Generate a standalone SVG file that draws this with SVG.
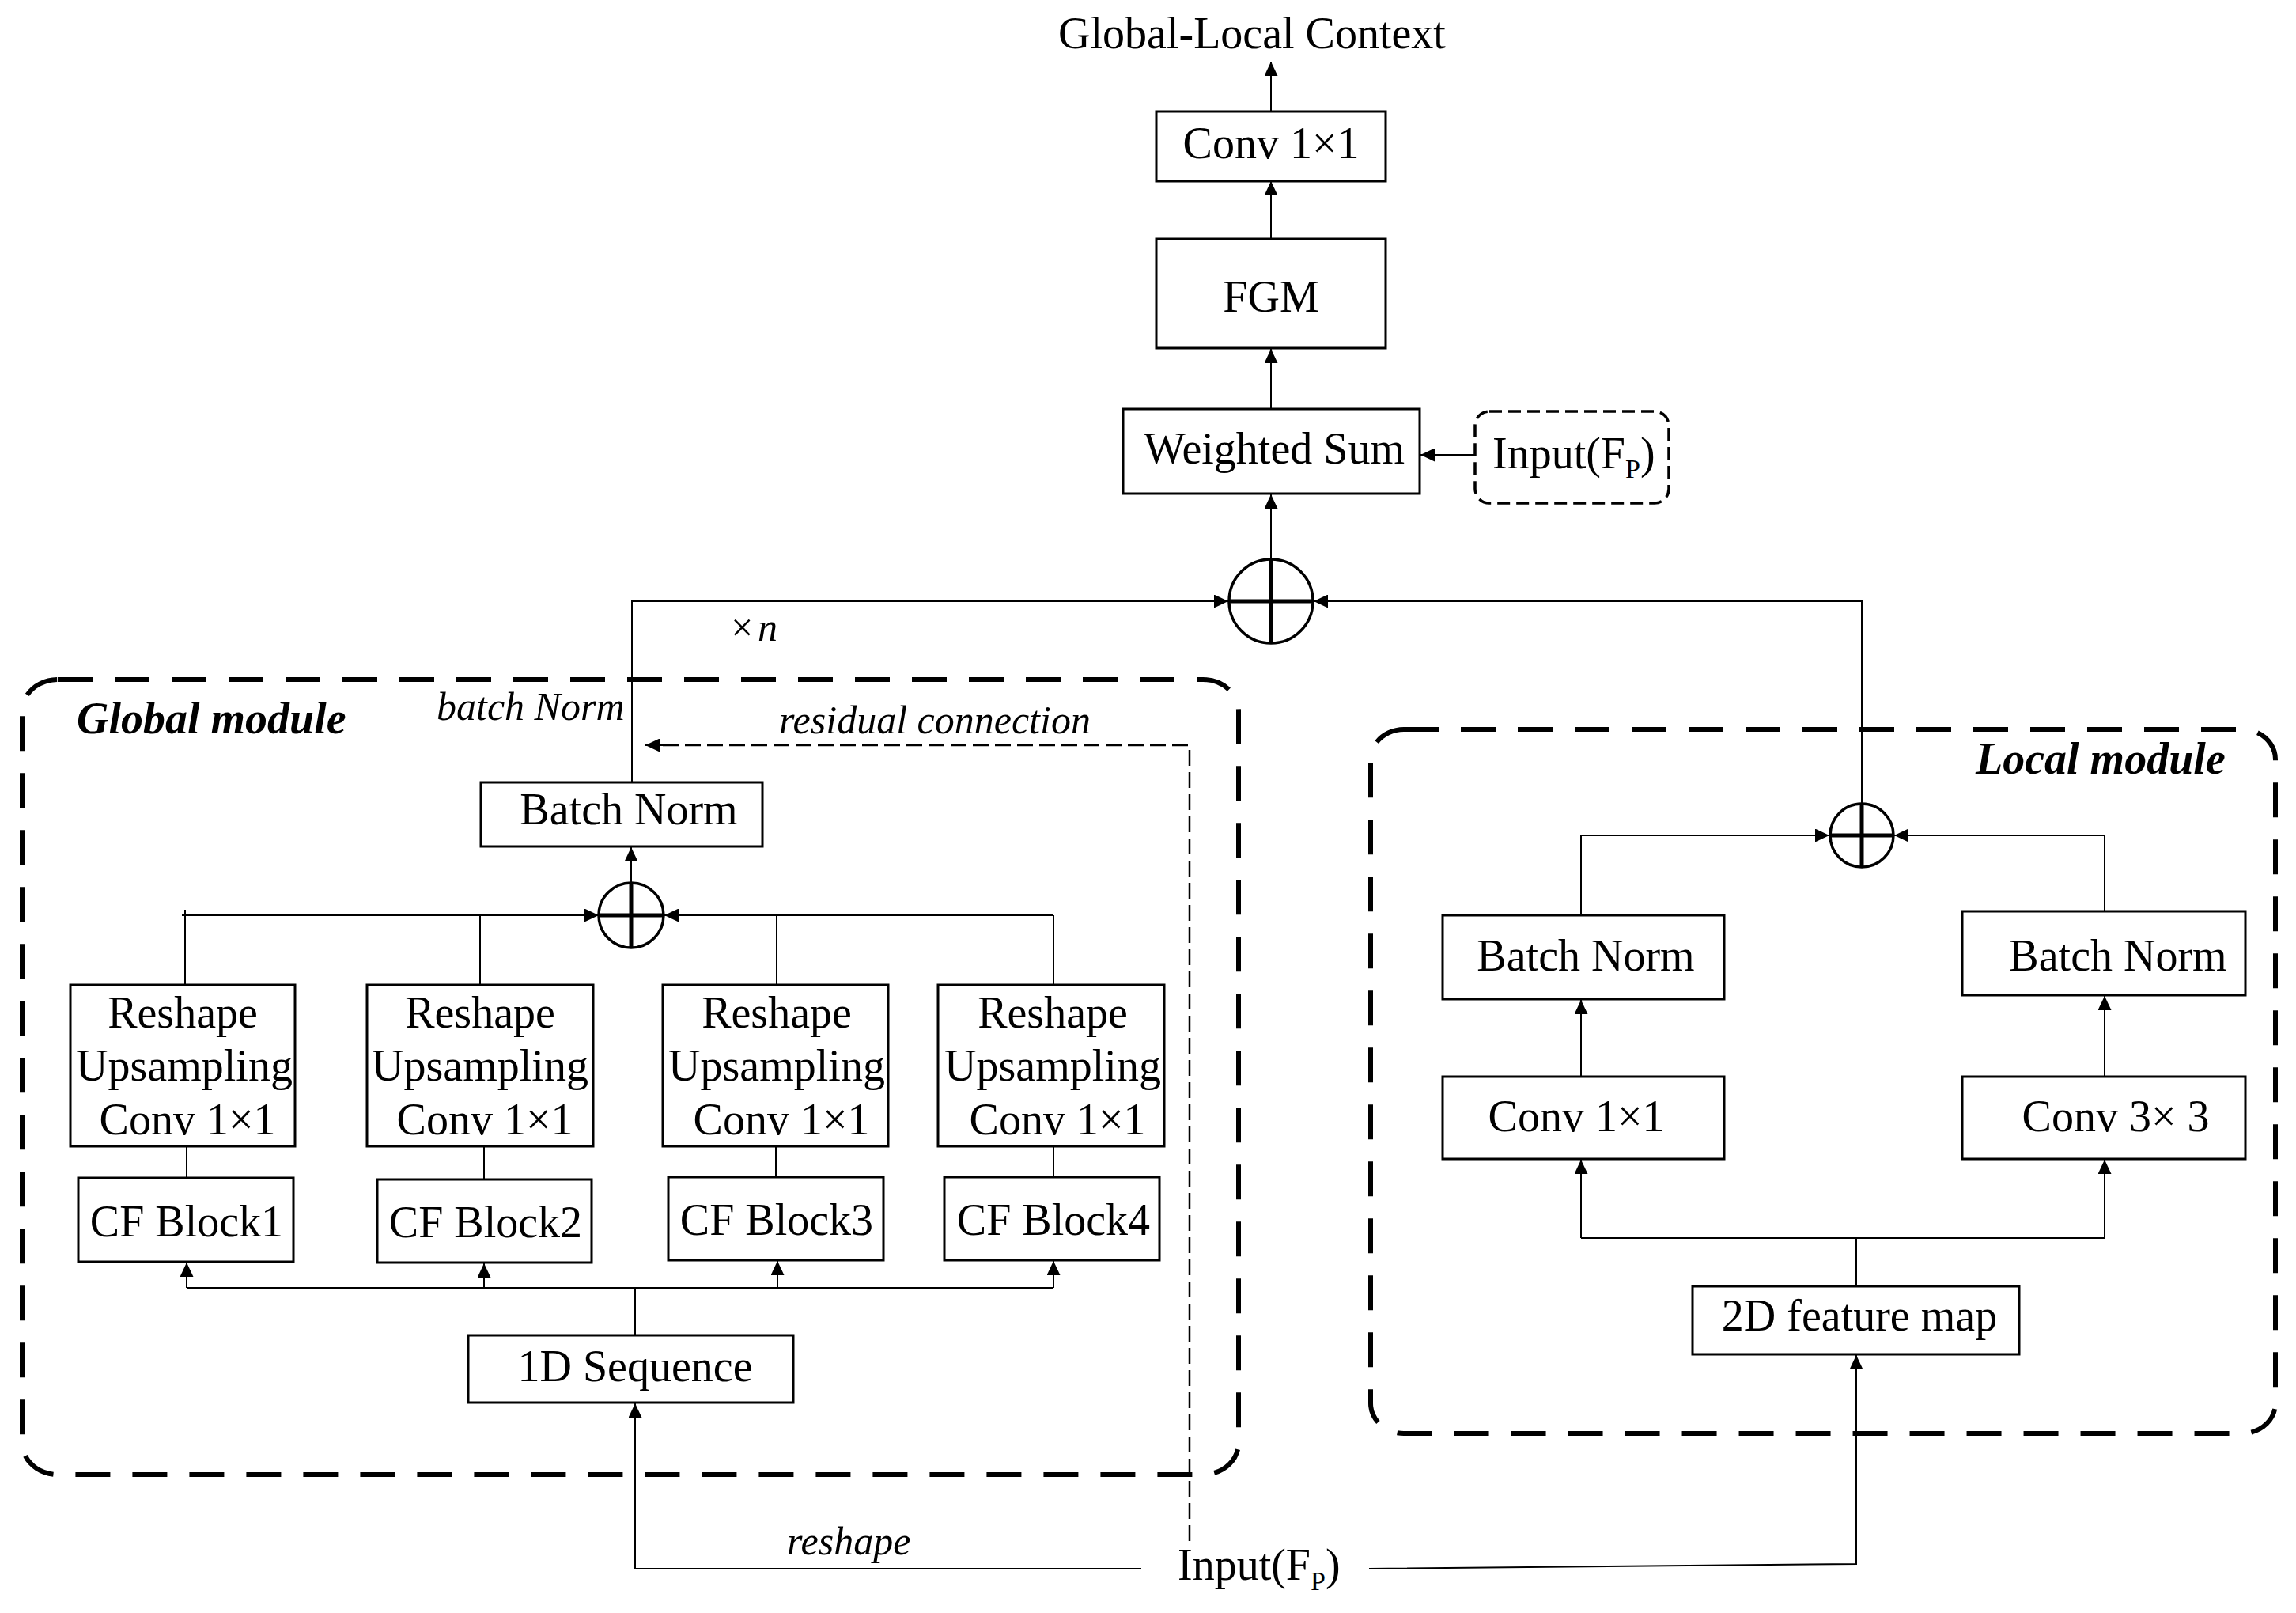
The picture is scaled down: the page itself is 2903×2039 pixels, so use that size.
<svg xmlns="http://www.w3.org/2000/svg" width="2903" height="2039" viewBox="0 0 2903 2039">
<style>
  .t { font-family: "Liberation Serif", "Times New Roman", serif; font-size: 56px; fill: #000; }
  .m { text-anchor: middle; }
  .it { font-family: "Liberation Serif", "Times New Roman", serif; font-size: 50px; font-style: italic; fill: #000; }
  .bi { font-family: "Liberation Serif", "Times New Roman", serif; font-size: 56px; font-style: italic; font-weight: bold; fill: #000; }
  .sub { font-size: 34px; }
  .box { fill: #fff; stroke: #000; stroke-width: 3; }
  .mod { fill: none; stroke: #000; stroke-width: 6; stroke-dasharray: 44 28; }
  .dbox { fill: #fff; stroke: #000; stroke-width: 3.5; stroke-dasharray: 16 8; }
  .ln { fill: none; stroke: #000; stroke-width: 2; }
  .arr { fill: none; stroke: #000; stroke-width: 2; marker-end: url(#ah); }
  .res { fill: none; stroke: #000; stroke-width: 2.5; stroke-dasharray: 20 8; }
  .circ { fill: #fff; stroke: #000; stroke-width: 3.5; }
  .cross { stroke: #000; stroke-width: 5; }
</style>
<defs>
  <marker id="ah" markerUnits="userSpaceOnUse" markerWidth="18" markerHeight="17" refX="18" refY="8.5" orient="auto">
    <path d="M0,0 L18,8.5 L0,17 Z" fill="#000"/>
  </marker>
</defs>
<rect width="2903" height="2039" fill="#fff"/>

<!-- module frames -->
<g id="global-module">
  <rect class="mod" x="28" y="859" width="1538" height="1005" rx="45" ry="40"/>
  <text class="bi" x="97" y="927">Global module</text>
</g>
<g id="local-module">
  <rect class="mod" x="1733" y="922" width="1144" height="890" rx="42" ry="38"/>
  <text class="bi" x="2498" y="978">Local module</text>
</g>

<!-- connectors -->
<g id="connectors">
  <line class="arr" x1="1607" y1="141" x2="1607" y2="78"/>
  <line class="arr" x1="1607" y1="302" x2="1607" y2="229"/>
  <line class="arr" x1="1607" y1="517" x2="1607" y2="441"/>
  <line class="arr" x1="1607" y1="707" x2="1607" y2="625"/>
  <line class="arr" x1="1865" y1="575" x2="1796" y2="575"/>
  <polyline class="arr" points="799,988 799,760 1553,760"/>
  <polyline class="arr" points="2354,1016 2354,760 1661,760"/>

  <!-- global module -->
  <line class="arr" x1="798" y1="1116" x2="798" y2="1071"/>
  <line class="arr" x1="230" y1="1157" x2="757" y2="1157"/>
  <line class="arr" x1="1332" y1="1157" x2="840" y2="1157"/>
  <line class="ln" x1="234" y1="1150" x2="234" y2="1245"/>
  <line class="ln" x1="607" y1="1157" x2="607" y2="1245"/>
  <line class="ln" x1="982" y1="1157" x2="982" y2="1245"/>
  <line class="ln" x1="1332" y1="1157" x2="1332" y2="1245"/>
  <line class="ln" x1="236" y1="1449" x2="236" y2="1489"/>
  <line class="ln" x1="612" y1="1449" x2="612" y2="1491"/>
  <line class="ln" x1="981" y1="1449" x2="981" y2="1488"/>
  <line class="ln" x1="1332" y1="1449" x2="1332" y2="1488"/>
  <line class="ln" x1="236" y1="1628" x2="1332" y2="1628"/>
  <line class="arr" x1="236" y1="1628" x2="236" y2="1596"/>
  <line class="arr" x1="612" y1="1628" x2="612" y2="1597"/>
  <line class="arr" x1="983" y1="1628" x2="983" y2="1594"/>
  <line class="arr" x1="1332" y1="1628" x2="1332" y2="1594"/>
  <line class="ln" x1="803" y1="1688" x2="803" y2="1628"/>
  <polyline class="arr" points="1443,1983 803,1983 803,1774"/>
  <polyline class="res" points="1504,1948 1504,942 836,942"/>
  <line class="arr" x1="840" y1="942" x2="816" y2="942"/>

  <!-- local module -->
  <polyline class="arr" points="1731,1983 2347,1977 2347,1713"/>
  <line class="ln" x1="2347" y1="1626" x2="2347" y2="1565"/>
  <line class="ln" x1="1999" y1="1565" x2="2661" y2="1565"/>
  <line class="arr" x1="1999" y1="1565" x2="1999" y2="1466"/>
  <line class="arr" x1="2661" y1="1565" x2="2661" y2="1466"/>
  <line class="arr" x1="1999" y1="1361" x2="1999" y2="1264"/>
  <line class="arr" x1="2661" y1="1361" x2="2661" y2="1259"/>
  <polyline class="arr" points="1999,1157 1999,1056 2313,1056"/>
  <polyline class="arr" points="2661,1152 2661,1056 2395,1056"/>
</g>

<!-- labels on connectors -->
<text class="t m" x="1583" y="61">Global-Local Context</text>
<text class="it" x="921" y="810">×<tspan x="958">n</tspan></text>
<text class="it" x="552" y="910">batch Norm</text>
<text class="it" x="985" y="927">residual connection</text>
<text class="it" x="995" y="1965">reshape</text>

<!-- sum nodes -->
<g id="sum-main">
  <circle class="circ" cx="1607" cy="760" r="53"/>
  <line class="cross" x1="1607" y1="707" x2="1607" y2="813"/>
  <line class="cross" x1="1554" y1="760" x2="1660" y2="760"/>
</g>
<g id="sum-global">
  <circle class="circ" cx="798" cy="1157" r="41"/>
  <line class="cross" x1="798" y1="1116" x2="798" y2="1198"/>
  <line class="cross" x1="757" y1="1157" x2="839" y2="1157"/>
</g>
<g id="sum-local">
  <circle class="circ" cx="2354" cy="1056" r="40"/>
  <line class="cross" x1="2354" y1="1016" x2="2354" y2="1096"/>
  <line class="cross" x1="2314" y1="1056" x2="2394" y2="1056"/>
</g>

<!-- top chain -->
<g id="conv-out">
  <rect class="box" x="1462" y="141" width="290" height="88"/>
  <text class="t m" x="1607" y="200">Conv 1×1</text>
</g>
<g id="fgm">
  <rect class="box" x="1462" y="302" width="290" height="138"/>
  <text class="t m" x="1607" y="394">FGM</text>
</g>
<g id="weighted-sum">
  <rect class="box" x="1420" y="517" width="375" height="107"/>
  <text class="t m" x="1611" y="586">Weighted Sum</text>
</g>
<g id="input-top">
  <rect class="dbox" x="1865" y="520" width="245" height="116" rx="18"/>
  <text class="t" x="1887" y="592">Input(F<tspan class="sub" dy="12">P</tspan><tspan dy="-12">)</tspan></text>
</g>

<!-- global module nodes -->
<g id="g-batchnorm">
  <rect class="box" x="608" y="989" width="356" height="81"/>
  <text class="t m" x="795" y="1042">Batch Norm</text>
</g>
<g id="reshape1">
  <rect class="box" x="89" y="1245" width="284" height="204"/>
  <text class="t m" x="231" y="1299">Reshape</text>
  <text class="t m" x="233" y="1366">Upsampling</text>
  <text class="t m" x="237" y="1434">Conv 1×1</text>
</g>
<g id="reshape2">
  <rect class="box" x="464" y="1245" width="286" height="204"/>
  <text class="t m" x="607" y="1299">Reshape</text>
  <text class="t m" x="607" y="1366">Upsampling</text>
  <text class="t m" x="613" y="1434">Conv 1×1</text>
</g>
<g id="reshape3">
  <rect class="box" x="838" y="1245" width="285" height="204"/>
  <text class="t m" x="982" y="1299">Reshape</text>
  <text class="t m" x="982" y="1366">Upsampling</text>
  <text class="t m" x="988" y="1434">Conv 1×1</text>
</g>
<g id="reshape4">
  <rect class="box" x="1186" y="1245" width="286" height="204"/>
  <text class="t m" x="1331" y="1299">Reshape</text>
  <text class="t m" x="1331" y="1366">Upsampling</text>
  <text class="t m" x="1337" y="1434">Conv 1×1</text>
</g>
<g id="cf1">
  <rect class="box" x="99" y="1489" width="272" height="106"/>
  <text class="t m" x="236" y="1563">CF Block1</text>
</g>
<g id="cf2">
  <rect class="box" x="477" y="1491" width="271" height="105"/>
  <text class="t m" x="614" y="1564">CF Block2</text>
</g>
<g id="cf3">
  <rect class="box" x="845" y="1488" width="272" height="105"/>
  <text class="t m" x="982" y="1561">CF Block3</text>
</g>
<g id="cf4">
  <rect class="box" x="1194" y="1488" width="272" height="105"/>
  <text class="t m" x="1332" y="1561">CF Block4</text>
</g>
<g id="seq1d">
  <rect class="box" x="592" y="1688" width="411" height="85"/>
  <text class="t m" x="803" y="1746">1D Sequence</text>
</g>

<!-- local module nodes -->
<g id="l-bn-left">
  <rect class="box" x="1824" y="1157" width="356" height="106"/>
  <text class="t m" x="2005" y="1227">Batch Norm</text>
</g>
<g id="l-bn-right">
  <rect class="box" x="2481" y="1152" width="358" height="106"/>
  <text class="t m" x="2678" y="1227">Batch Norm</text>
</g>
<g id="l-conv1">
  <rect class="box" x="1824" y="1361" width="356" height="104"/>
  <text class="t m" x="1993" y="1430">Conv 1×1</text>
</g>
<g id="l-conv3">
  <rect class="box" x="2481" y="1361" width="358" height="104"/>
  <text class="t m" x="2675" y="1430">Conv 3× 3</text>
</g>
<g id="feature2d">
  <rect class="box" x="2140" y="1626" width="413" height="86"/>
  <text class="t m" x="2351" y="1682">2D feature map</text>
</g>

<!-- bottom input -->
<g id="input-bottom">
  <text class="t" x="1489" y="1997">Input(F<tspan class="sub" dy="13">P</tspan><tspan dy="-13">)</tspan></text>
</g>
</svg>
